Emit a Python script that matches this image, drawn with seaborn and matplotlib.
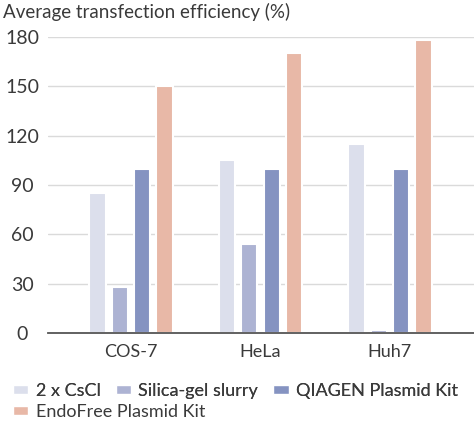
import pandas as pd
import seaborn as sns
from matplotlib import pyplot as plt
from matplotlib.patches import Patch

## Values
cell_lines = ["COS-7", "HeLa", "Huh7"]
methods = ["2 x CsCl", "Silica-gel slurry", "QIAGEN Plasmid Kit", "EndoFree Plasmid Kit"]
cscl = [85, 105, 115]
silica = [28, 54, 2]
qiagen = [100, 100, 99.5]
endofree = [150, 170, 178]
colors = ["#dcdfec", "#adb3d3", "#8593c1", "#e8b8a7"]
yticks = [0, 30, 60, 90, 120, 150, 180]

# long format table for seaborn
rows = []
for m, vals in zip(methods, [cscl, silica, qiagen, endofree]):
    for c, v in zip(cell_lines, vals):
        rows.append({"cell": c, "method": m, "value": v})
df = pd.DataFrame(rows)

sns.set_style("white")
plt.rcParams["font.family"] = ["Lato", "DejaVu Sans"]
txt = "#3a3a3a"

fig = plt.figure(figsize=(4.74, 4.24), dpi=100)
ax = fig.add_axes([48 / 474, 1 - 333 / 424, 1 - 48 / 474, 296 / 424])

sns.barplot(data=df, x="cell", y="value", hue="method", hue_order=methods,
            palette=colors, width=0.69, gap=0.28, saturation=1,
            edgecolor="white", linewidth=1.5, legend=False, ax=ax)

ax.set_xlim(-0.641, 2.649)
ax.set_ylim(0, 180)
ax.set_yticks(yticks)
ax.set_yticklabels([str(t) for t in yticks], ha="center")
ax.yaxis.grid(True, color="#dadada", linewidth=1)
ax.set_axisbelow(True)
ax.tick_params(axis="y", length=0, pad=18.7, labelsize=14, labelcolor=txt)
ax.tick_params(axis="x", length=0, pad=8, labelsize=13, labelcolor=txt)
ax.set_xlabel("")
ax.set_ylabel("")
for s in ["top", "right", "left"]:
    ax.spines[s].set_visible(False)
ax.spines["bottom"].set_color("#555555")
ax.spines["bottom"].set_linewidth(1.3)

fig.text(3 / 474, 1 - 12 / 424, "Average transfection efficiency (%)",
         fontsize=13.5, color=txt, va="center", ha="left")

handles = [Patch(facecolor=c, label=m) for c, m in zip(colors, methods)]
leg_kw = dict(frameon=False, fontsize=13, handlelength=0.85, handleheight=0.4,
              handletextpad=0.4, columnspacing=0.85, borderpad=0, borderaxespad=0,
              labelcolor=txt, loc="center left")
leg1 = fig.legend(handles=handles[:3], ncol=3,
                  bbox_to_anchor=(13 / 474, 1 - 391 / 424), **leg_kw)
fig.add_artist(leg1)
fig.legend(handles=handles[3:], ncol=1,
           bbox_to_anchor=(13 / 474, 1 - 412 / 424), **leg_kw)

fig.savefig("out.png", dpi=100)
